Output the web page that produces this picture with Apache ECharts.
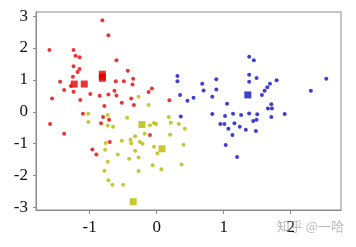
<!DOCTYPE html>
<html><head><meta charset="utf-8">
<script src="https://cdn.jsdelivr.net/npm/echarts@6/dist/echarts.min.js"></script>
<style>html,body{margin:0;padding:0;background:#fff}#c{width:356px;height:247px}</style>
</head><body><div id="c"></div>
<script>
const xTicks = [-1, 0, 1, 2];
const yTicks = [-3, -2, -1, 0, 1, 2, 3];
const redPoints = [[-0.81,2.87],[-0.72,2.40],[-1.60,1.94],[-1.24,1.94],[-1.21,1.76],[-1.15,1.71],[-0.60,1.62],[-1.24,1.43],[-1.15,1.34],[-1.18,1.25],[-0.43,1.29],[-1.25,1.10],[-0.35,1.04],[-1.44,0.94],[-0.61,0.96],[-0.49,0.96],[-0.36,0.86],[-1.28,0.81],[-1.38,0.68],[-1.24,0.63],[-0.63,0.66],[-0.60,0.51],[-0.99,0.56],[-0.85,0.50],[-0.72,0.54],[-1.56,0.42],[-1.14,0.37],[-0.38,0.42],[-0.52,0.28],[-0.78,0.18],[-0.34,0.21],[-0.07,0.73],[-0.12,0.62],[0.19,0.36],[-1.10,-0.06],[-1.59,-0.38],[-1.38,-0.69],[-0.80,-0.16],[-0.83,-0.36],[-0.71,-0.25],[-0.70,-0.95],[-0.96,-1.18],[-0.90,-1.34],[-0.10,-0.73]];
const redCenters = [[-1.23,0.87],[-1.08,0.87],[-0.81,1.18],[-0.81,1.10],[-0.81,1.05]];
const yellowPoints = [[-1.02,-0.06],[-1.02,-0.32],[-0.73,-0.10],[-0.73,-0.43],[-0.65,-0.47],[-0.44,-0.19],[-0.76,-0.98],[-0.77,-1.19],[-0.52,-0.91],[-0.39,-0.88],[-0.32,-0.77],[-0.38,-0.99],[-0.32,-1.22],[-0.58,-1.34],[-0.41,-1.47],[-0.73,-1.57],[-0.78,-1.85],[-0.72,-2.15],[-0.66,-2.29],[-0.50,-2.29],[-0.27,0.47],[-0.12,0.21],[-0.10,-0.42],[-0.04,-0.35],[-0.01,-0.38],[0.18,-0.16],[0.21,-0.34],[0.33,-0.38],[0.42,-0.53],[-0.18,-0.69],[0.20,-0.72],[-0.25,-0.95],[-0.21,-1.00],[-0.04,-1.10],[0.01,-1.31],[0.40,-1.03],[-0.27,-1.43],[-0.27,-1.86],[-0.06,-1.68],[0.07,-1.80],[0.37,-1.65]];
const yellowCenters = [[-0.22,-0.40],[0.08,-1.16],[-0.35,-2.82]];
const bluePoints = [[0.31,1.12],[0.31,0.96],[0.35,0.53],[0.46,0.35],[0.55,0.44],[0.68,0.88],[0.70,0.67],[0.89,1.02],[0.83,0.47],[0.89,0.70],[1.05,0.25],[1.38,1.73],[1.45,1.62],[1.38,1.16],[1.38,0.94],[1.49,1.06],[1.57,0.53],[1.61,0.66],[1.65,0.77],[1.69,0.88],[1.79,0.99],[2.30,0.66],[2.53,1.04],[1.71,0.24],[1.66,0.10],[1.72,0.10],[1.91,-0.07],[1.71,-0.16],[0.83,-0.07],[1.02,-0.13],[1.14,-0.06],[1.26,-0.10],[1.38,-0.05],[1.50,-0.08],[1.44,-0.29],[1.49,-0.25],[0.95,-0.38],[1.01,-0.38],[1.16,-0.36],[1.24,-0.47],[1.33,-0.56],[1.48,-0.60],[1.07,-0.53],[1.13,-0.73],[1.03,-1.04],[1.20,-1.42],[0.36,-0.15]];
const blueCenters = [[1.36,0.53]];

const RED = '#e80000', YEL = '#b9b900', BLU = '#1010c4';
const chart = echarts.init(document.getElementById('c'), null, {renderer: 'canvas'});
const axisFont = {fontFamily: 'Liberation Serif', fontSize: 17, color: '#111'};
function dots(data, color) {
  return {type: 'scatter', data: data, symbol: 'circle', symbolSize: 4, itemStyle: {color: color}, silent: true, animation: false};
}
function squares(data, color) {
  return {type: 'scatter', data: data, symbol: 'rect', symbolSize: 7, itemStyle: {color: color}, silent: true, animation: false, z: 3};
}
chart.setOption({
  animation: false,
  grid: {left: 36, top: 12, right: 15, bottom: 37, show: true, borderColor: '#8a8a8a', borderWidth: 1, backgroundColor: 'transparent'},
  xAxis: {
    type: 'value', min: -1.8, max: 2.75,
    splitLine: {show: false},
    axisLine: {onZero: false, lineStyle: {color: '#8a8a8a', width: 1}},
    axisTick: {show: true, length: 4, lineStyle: {color: '#8a8a8a'}, customValues: xTicks},
    axisLabel: Object.assign({margin: 9, customValues: xTicks, formatter: v => String(v)}, axisFont)
  },
  yAxis: {
    type: 'value', min: -3.08, max: 3.13,
    splitLine: {show: false},
    axisLine: {onZero: false, lineStyle: {color: '#8a8a8a', width: 1}},
    axisTick: {show: true, length: 3, lineStyle: {color: '#8a8a8a'}, customValues: yTicks},
    axisLabel: Object.assign({margin: 8, customValues: yTicks, formatter: v => String(v)}, axisFont)
  },
  series: [
    dots(redPoints, RED), dots(yellowPoints, YEL), dots(bluePoints, BLU),
    squares(redCenters, RED), squares(yellowCenters, YEL), squares(blueCenters, BLU)
  ],
  graphic: [{
    type: 'text', right: 12, top: 220, z: 100,
    style: {text: '知乎 @一哈', fill: 'rgba(150,150,150,0.65)', font: '13px "Noto Sans CJK SC"'}
  }]
});
</script></body></html>
